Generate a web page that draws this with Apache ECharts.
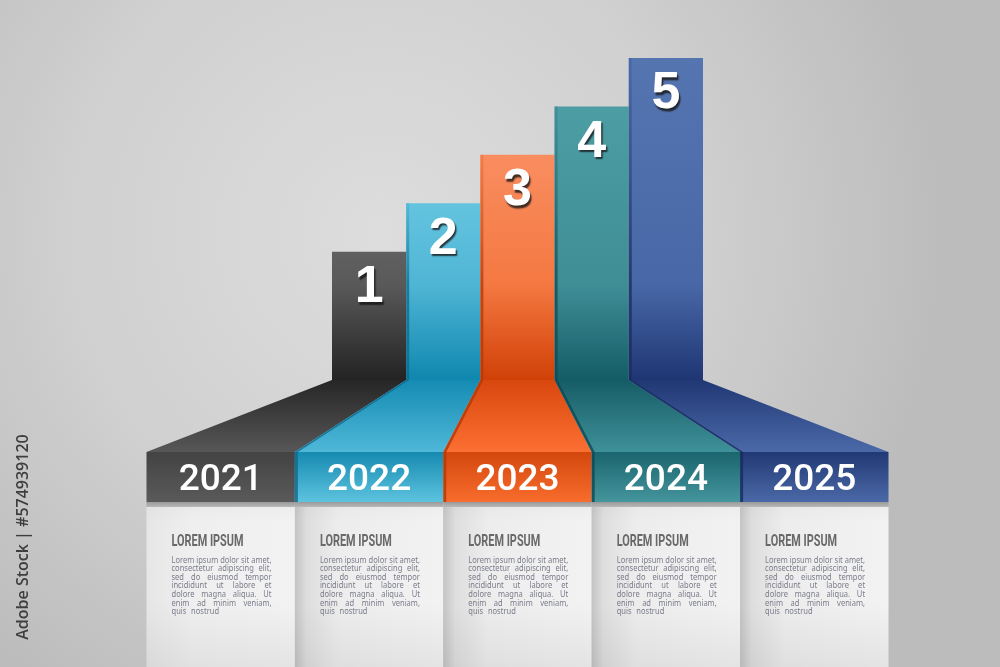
<!DOCTYPE html>
<html>
<head>
<meta charset="utf-8">
<script src="https://cdn.jsdelivr.net/npm/echarts@6/dist/echarts.min.js"></script>
<style>
html,body{margin:0;padding:0;width:1000px;height:667px;overflow:hidden;background:#d6d6d6;}
#chart{width:1000px;height:667px;}
</style>
</head>
<body>
<div id="chart"></div>
<script>
// ---------- data ----------
const years = ['2021', '2022', '2023', '2024', '2025'];
const steps = [1, 2, 3, 4, 5];
const stepLabels = ['1', '2', '3', '4', '5'];
const boxTitles = ['LOREM IPSUM', 'LOREM IPSUM', 'LOREM IPSUM', 'LOREM IPSUM', 'LOREM IPSUM'];
const bodyLines = [
  'Lorem ipsum dolor sit amet,',
  'consectetur adipiscing elit,',
  'sed do eiusmod tempor',
  'incididunt ut labore et',
  'dolore magna aliqua. Ut',
  'enim ad minim veniam,',
  'quis nostrud'
];
const sideLabel = 'Adobe Stock | #574939120';

// ---------- styles ----------
const palette = [
  {barTop:'#606060', barMid:'#595959', barBot:'#232323', ribTop:'#262626', ribBot:'#575757', bandTop:'#434343', bandBot:'#5a5a5a', edge:'#1c1c1c'},
  {barTop:'#64c4df', barMid:'#4fb5d5', barBot:'#0f87ae', ribTop:'#158bb3', ribBot:'#4fb8d8', bandTop:'#168ab0', bandBot:'#5dc3df', edge:'#0c6a8d'},
  {barTop:'#f98d60', barMid:'#f47841', barBot:'#d04107', ribTop:'#d8480e', ribBot:'#fc6f32', bandTop:'#d3470d', bandBot:'#f86d2d', edge:'#b03807'},
  {barTop:'#4c9da4', barMid:'#3f8e96', barBot:'#145c66', ribTop:'#165c66', ribBot:'#3f9199', bandTop:'#1a656e', bandBot:'#45959d', edge:'#0d4a53'},
  {barTop:'#5575b1', barMid:'#4867a6', barBot:'#1f3673', ribTop:'#203874', ribBot:'#4b69a8', bandTop:'#213974', bandBot:'#4b69a7', edge:'#172b5f'}
];
const Y_MIN = -1.65, Y_MAX = 5;

// text measuring for justified body text
const mctx = document.createElement('canvas').getContext('2d');
function measure(txt, font) { mctx.font = font; return mctx.measureText(txt).width; }
const BODY_FAMILY = '"Noto Sans", "Open Sans", sans-serif';
const BODY_W = 100;
const bodyFont = '8.8px ' + BODY_FAMILY;
const TITLE_FAMILY = '"Liberation Sans Narrow", "Roboto", sans-serif';
const titleFont = 'bold 17px ' + TITLE_FAMILY;
const titleScale = 72 / measure(boxTitles[0], titleFont);

function bodyElements(x, y0, lh) {
  const els = [];
  const spaceW = measure(' ', bodyFont);
  let maxNat = 0;
  bodyLines.forEach(line => { maxNat = Math.max(maxNat, measure(line, bodyFont)); });
  const s = Math.min(1, BODY_W / maxNat);
  bodyLines.forEach((line, li) => {
    const words = line.split(/\s+/);
    const widths = words.map(w => measure(w, bodyFont) * s);
    const sum = widths.reduce((a, b) => a + b, 0);
    const last = li === bodyLines.length - 1;
    let gap;
    if (last || words.length < 2) { gap = spaceW * s * 2.4; }
    else { gap = Math.max(spaceW * s, (BODY_W - sum) / (words.length - 1)); }
    let cx = x;
    words.forEach((w, wi) => {
      els.push({
        type: 'text', x: cx, y: y0 + li * lh, scaleX: s,
        style: {text: w, x: 0, y: 0, font: bodyFont, fill: '#7a7c8a', verticalAlign: 'middle', align: 'left'},
        silent: true
      });
      cx += widths[wi] + gap;
    });
  });
  return els;
}

function renderItem(params, api) {
  const i = api.value(0);
  const v = api.value(1);
  const p = palette[i];
  const top = api.coord([i, v]);
  const base = api.coord([i, Y_MIN]);
  const bw = api.size([1, 0])[0];
  const x0 = top[0] - bw / 2, x1 = top[0] + bw / 2;
  const first = api.coord([0, Y_MIN])[0];
  const lastC = api.coord([years.length - 1, Y_MIN])[0];
  const mid = (first + lastC) / 2;
  const k = 2;
  const bx0 = mid + k * (x0 - mid), bx1 = mid + k * (x1 - mid);
  const fy = base[1];
  const bandTop = fy + 72, bandBot = bandTop + 50, stripBot = bandBot + 5;
  const H = api.getHeight();
  const barH = fy - top[1];
  const o = Math.max(0.05, 1 - 95 / barH);
  const LG = echarts.graphic.LinearGradient;
  const children = [];

  // vertical bar
  children.push({
    type: 'rect', shape: {x: x0, y: top[1], width: bw, height: barH},
    style: {fill: new LG(0, 0, 0, 1, [
      {offset: 0, color: p.barTop}, {offset: o, color: p.barMid}, {offset: 1, color: p.barBot}])}
  });
  if (i > 0) {
    children.push({
      type: 'rect', shape: {x: x0, y: top[1], width: 3, height: barH},
      style: {fill: new LG(0, 0, 0, 1, [
        {offset: 0, color: p.barMid}, {offset: o, color: p.edge}, {offset: 1, color: p.edge}]), opacity: 0.75}
    });
  }
  // floor ribbon
  children.push({
    type: 'polygon', shape: {points: [[x0, fy], [x1, fy], [bx1, bandTop], [bx0, bandTop]]},
    style: {fill: new LG(0, 0, 0, 1, [
      {offset: 0, color: p.ribTop}, {offset: 1, color: p.ribBot}])}
  });
  if (i > 0) {
    children.push({
      type: 'polygon', shape: {points: [[x0, fy], [x0 + 3, fy], [bx0 + 3, bandTop], [bx0, bandTop]]},
      style: {fill: p.edge, opacity: 0.8}
    });
  }
  // year band
  children.push({
    type: 'rect', shape: {x: bx0, y: bandTop, width: bx1 - bx0, height: bandBot - bandTop},
    style: {fill: new LG(0, 0, 0, 1, [
      {offset: 0, color: p.bandTop}, {offset: 1, color: p.bandBot}])}
  });
  if (i > 0) {
    children.push({
      type: 'rect', shape: {x: bx0, y: bandTop, width: 3, height: bandBot - bandTop},
      style: {fill: p.edge, opacity: 0.8}
    });
  }
  // grey strip
  children.push({
    type: 'rect', shape: {x: bx0, y: bandBot, width: bx1 - bx0, height: stripBot - bandBot},
    style: {fill: new LG(0, 0, 0, 1, [{offset: 0, color: '#9a9a9a'}, {offset: 1, color: '#b8b8b8'}])}
  });
  // info box
  children.push({
    type: 'rect', shape: {x: bx0, y: stripBot, width: bx1 - bx0, height: H - stripBot},
    style: {fill: new LG(0, 0, 1, 0, i === 0 ? [
      {offset: 0, color: '#e6e6e6'}, {offset: 0.3, color: '#efefef'}, {offset: 1, color: '#f2f2f2'}] : [
      {offset: 0, color: '#c4c4c4'}, {offset: 0.08, color: '#dedede'}, {offset: 0.3, color: '#ededed'}, {offset: 1, color: '#f2f2f2'}])}
  });
  children.push({
    type: 'rect', shape: {x: bx0, y: stripBot, width: bx1 - bx0, height: H - stripBot},
    style: {fill: new LG(0, 0, 0, 1, [
      {offset: 0, color: 'rgba(0,0,0,0.02)'}, {offset: 0.1, color: 'rgba(0,0,0,0)'}, {offset: 0.6, color: 'rgba(0,0,0,0)'}, {offset: 1, color: 'rgba(0,0,0,0.06)'}])}
  });
  // number label
  children.push({
    type: 'text', x: top[0], y: top[1] + 36,
    style: {text: stepLabels[i], x: 0, y: 0, align: 'center', verticalAlign: 'middle',
      font: 'bold 52px "Liberation Sans", Arial, sans-serif', fill: '#ffffff',
      textShadowColor: 'rgba(20,20,20,0.8)', textShadowOffsetX: 1.5, textShadowOffsetY: 2.5, textShadowBlur: 1.5}
  });
  // year label
  children.push({
    type: 'text', x: (bx0 + bx1) / 2, y: (bandTop + bandBot) / 2 + 4,
    style: {text: years[i], x: 0, y: 0, align: 'center', verticalAlign: 'middle',
      font: '500 37px Roboto, "Open Sans", sans-serif', fill: '#ffffff'}
  });
  // box title
  const tx = bx0 + 25;
  children.push({
    type: 'text', x: tx, y: 542, scaleX: titleScale,
    style: {text: boxTitles[i], x: 0, y: 0, align: 'left', verticalAlign: 'middle', font: titleFont, fill: '#696969'}
  });
  bodyElements(tx, 560, 8.6).forEach(e => children.push(e));

  return {type: 'group', children: children};
}

const chart = echarts.init(document.getElementById('chart'), null, {renderer: 'canvas'});
chart.setOption({
  backgroundColor: new echarts.graphic.RadialGradient(0.38, 0.35, 0.85, [
    {offset: 0, color: '#dddddd'}, {offset: 0.55, color: '#d0d0d0'}, {offset: 1, color: '#bcbcbc'}]),
  animation: false,
  grid: {left: 332, right: 297, top: 58, bottom: 287},
  xAxis: {type: 'category', data: years, show: false, boundaryGap: true},
  yAxis: {type: 'value', min: Y_MIN, max: Y_MAX, show: false},
  graphic: [{
    type: 'text', x: 23, y: 537, rotation: Math.PI / 2,
    style: {text: sideLabel, x: 0, y: 0, align: 'center', verticalAlign: 'middle',
      font: '600 16px "Open Sans", sans-serif', fill: '#3e3e3e'}
  }],
  series: [{
    type: 'custom',
    clip: false,
    renderItem: renderItem,
    encode: {x: 0, y: 1},
    data: steps.map((v, i) => [i, v])
  }]
});
</script>
</body>
</html>
